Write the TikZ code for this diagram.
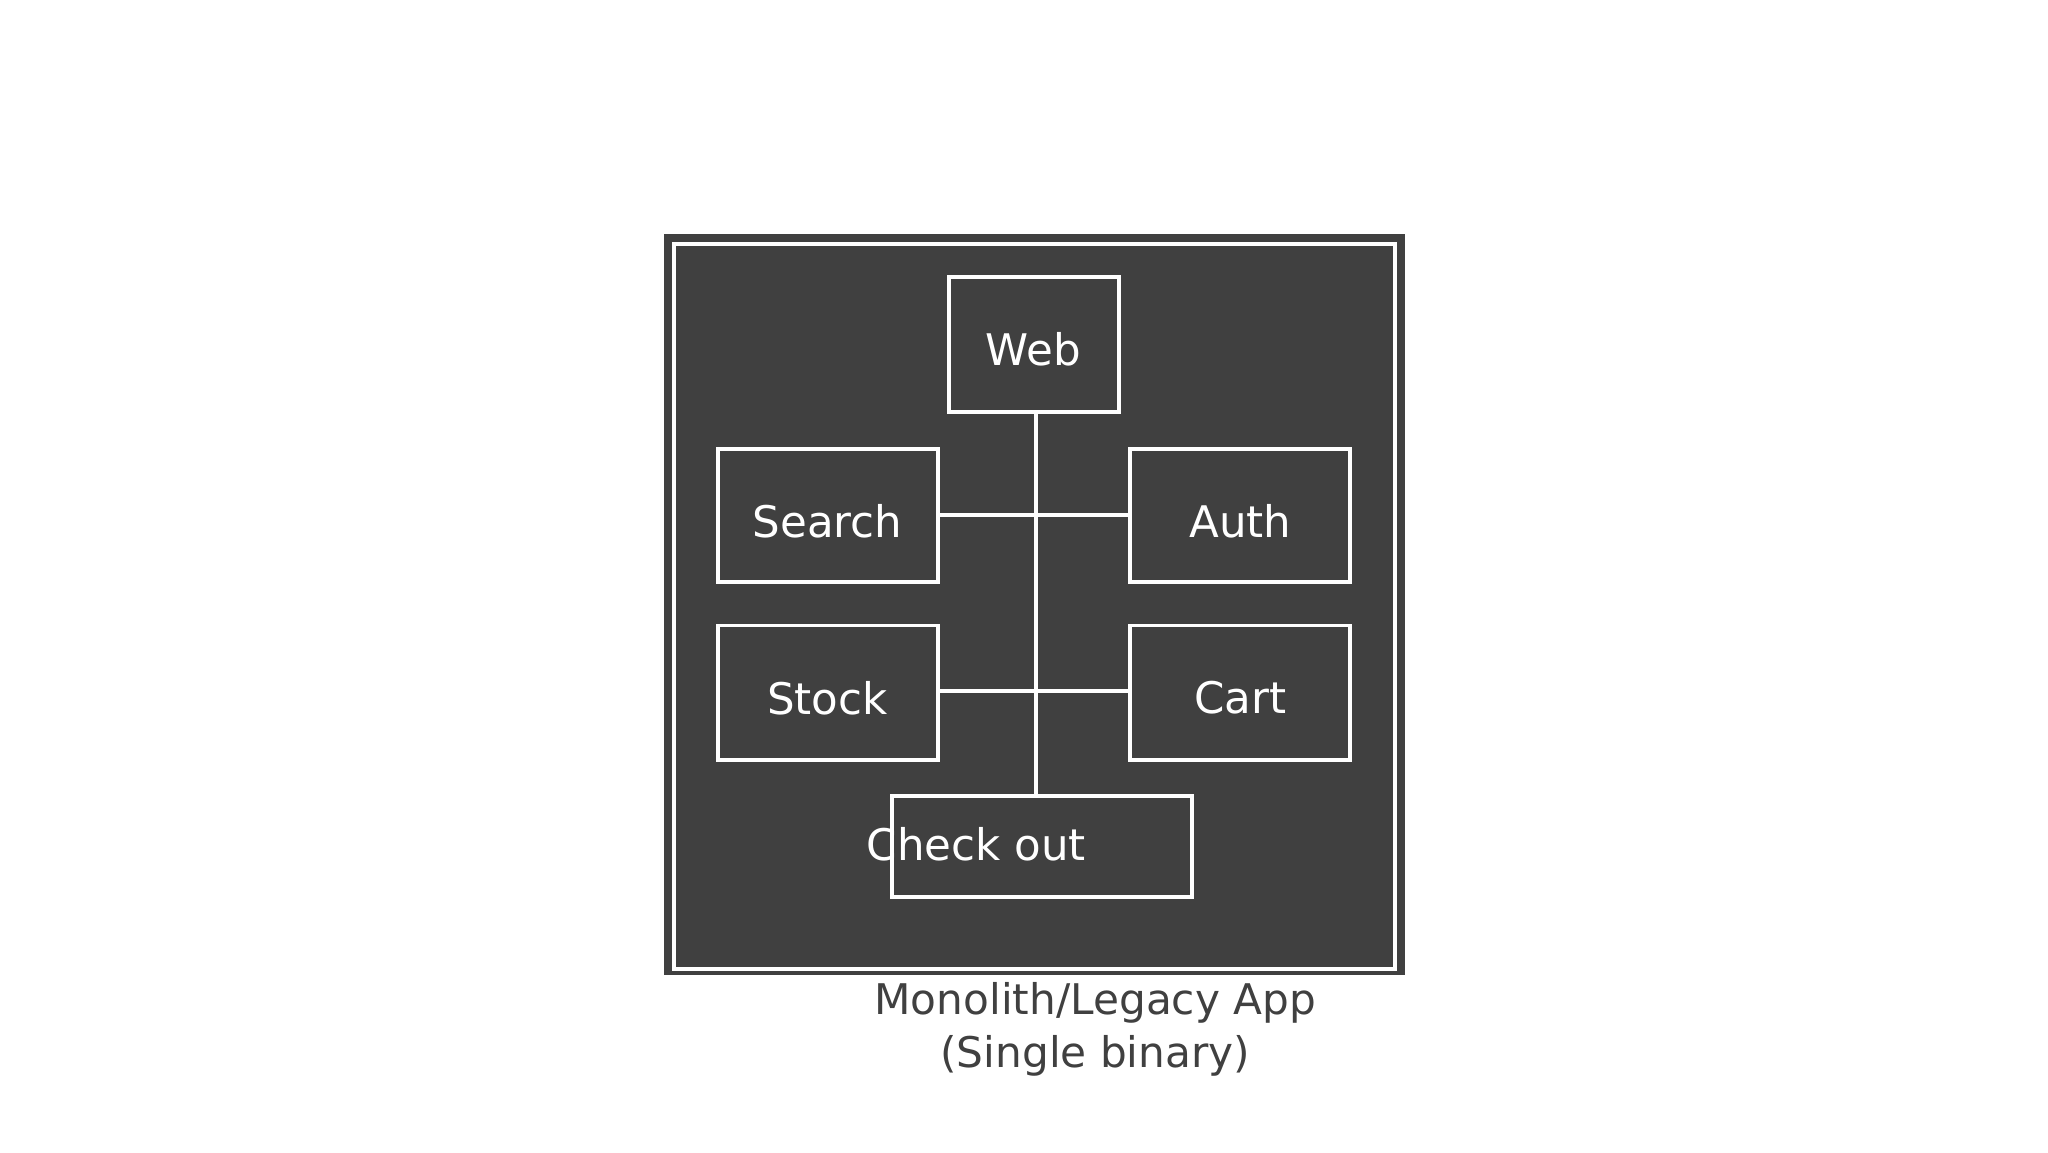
\documentclass[tikz,border=0pt]{standalone}
\usepackage{fontspec}
\setmainfont{DejaVu Sans}
\definecolor{dk}{HTML}{404040}
\begin{document}
\begin{tikzpicture}[x=0.5pt,y=-0.5pt,
  comp/.style={draw=white,line width=1.5pt,fill=dk},
  lbl/.style={text=white,font=\fontsize{16.5}{20}\selectfont},
  link/.style={draw=white,line width=1.5pt}]
\useasboundingbox (0,0) rectangle (1552,873);
\fill[dk] (503,177) rectangle (1065,739);
\draw[white,line width=1.5pt] (511,185) rectangle (1057,734);
\draw[link] (785,312) -- (785,603);
\draw[comp] (719,210) rectangle (848,312); \node[lbl] (web) at (783,265) {Web};
\draw[comp] (544,340) rectangle (711,441); \node[lbl] (search) at (627,395) {Search};
\draw[comp] (856,340) rectangle (1023,441); \node[lbl] (auth) at (940,395) {Auth};
\draw[comp] (544,474) rectangle (711,576); \node[lbl] (stock) at (627,529) {Stock};
\draw[comp] (856,474) rectangle (1023,576); \node[lbl] (cart) at (940,529) {Cart};
\draw[comp] (676,603) rectangle (903,680); \node[lbl] (co) at (740,640) {Check out};
\draw[link] (711,390) -- (856,390);
\draw[link] (711,524) -- (856,524);
\draw[link] (785,312) -- (785,603);
\node[text=dk,font=\fontsize{16}{20}\selectfont,align=center] (cap) at (830,780) {Monolith/Legacy App\\(Single binary)};
\end{tikzpicture}
\end{document}
